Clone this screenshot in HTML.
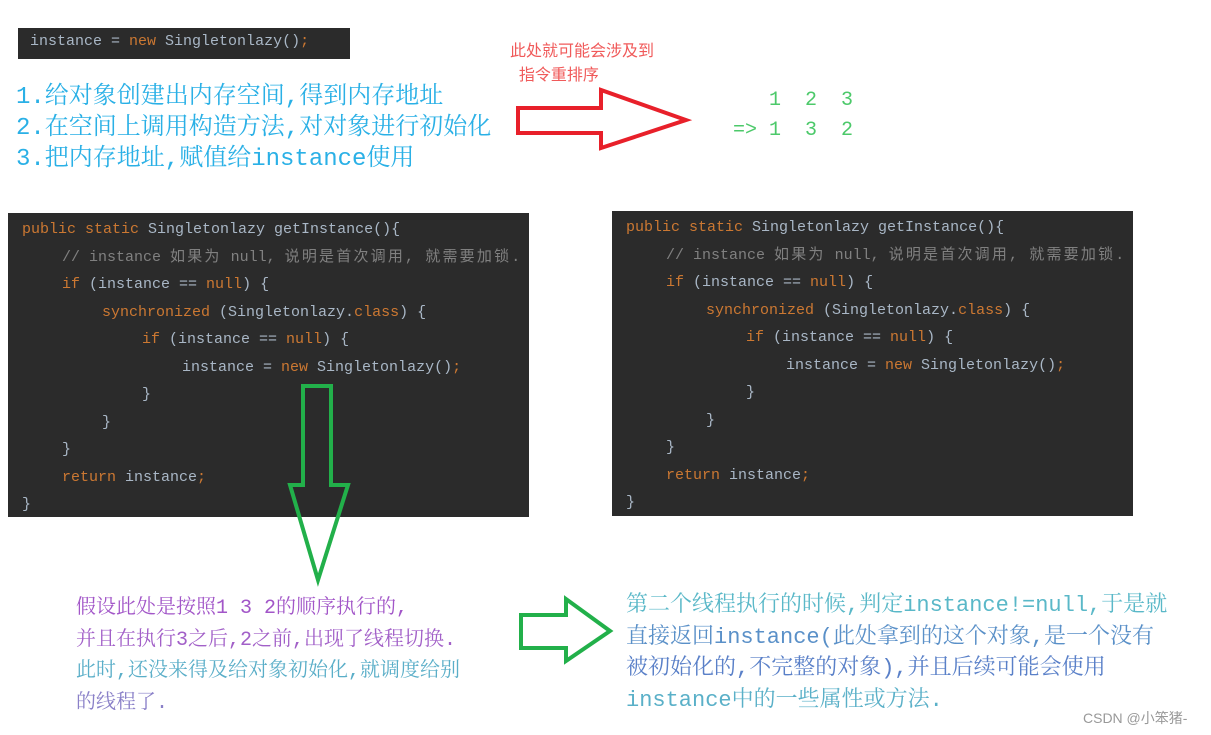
<!DOCTYPE html>
<html><head><meta charset="utf-8"><style>
body{margin:0;width:1211px;height:735px;background:#fff;position:relative;overflow:hidden;font-family:"Liberation Mono","Noto Serif CJK SC",serif}
.a{position:absolute;white-space:pre}
.code{position:absolute;background:#2b2b2b;font-family:"Liberation Mono","Noto Sans CJK SC",monospace;font-size:15px;color:#a9b7c6}
.code div{position:absolute;white-space:pre;line-height:20px}
.k{color:#cc7832}.c{color:#808080}.z{letter-spacing:2.2px}
</style></head><body>
<div class="code" style="left:18px;top:28px;width:332px;height:31px"><div style="top:4px;left:12px">instance = <span class="k">new</span> Singletonlazy()<span class="k">;</span></div></div>
<div class="a" style="left:16px;top:82px;font-size:24px;color:#2ab0e6;line-height:31px">1.给对象创建出内存空间,得到内存地址
2.在空间上调用构造方法,对对象进行初始化
3.把内存地址,赋值给instance使用</div>
<div class="a" style="left:510px;top:40px;font-size:16px;color:#f05a5a;line-height:24px;font-family:'Liberation Sans','Noto Sans CJK SC',sans-serif">此处就可能会涉及到
  指令重排序</div>
<div class="a" style="left:733px;top:86px;font-size:20px;color:#4cc96a;line-height:30px">   1  2  3
=> 1  3  2</div>
<svg class="a" style="left:0;top:0" width="1211" height="735">
<polygon points="518,108 601,108 601,90 686,120 601,148 601,133 518,133" fill="none" stroke="#e8202a" stroke-width="4"/>
</svg>
<div class="code" style="left:8px;top:213px;width:521px;height:304px">
<div style="top:7px;left:14px"><span class="k">public static</span> Singletonlazy getInstance(){</div>
<div style="top:35px;left:54px" class="c">// instance <span class="z">如果为</span> null, <span class="z">说明是首次调用,</span> <span class="z">就需要加锁.</span></div>
<div style="top:62px;left:54px"><span class="k">if</span> (instance == <span class="k">null</span>) {</div>
<div style="top:90px;left:94px"><span class="k">synchronized</span> (Singletonlazy.<span class="k">class</span>) {</div>
<div style="top:117px;left:134px"><span class="k">if</span> (instance == <span class="k">null</span>) {</div>
<div style="top:145px;left:174px">instance = <span class="k">new</span> Singletonlazy()<span class="k">;</span></div>
<div style="top:172px;left:134px">}</div>
<div style="top:200px;left:94px">}</div>
<div style="top:227px;left:54px">}</div>
<div style="top:255px;left:54px"><span class="k">return</span> instance<span class="k">;</span></div>
<div style="top:282px;left:14px">}</div>
</div>
<div class="code" style="left:612px;top:211px;width:521px;height:305px">
<div style="top:7px;left:14px"><span class="k">public static</span> Singletonlazy getInstance(){</div>
<div style="top:35px;left:54px" class="c">// instance <span class="z">如果为</span> null, <span class="z">说明是首次调用,</span> <span class="z">就需要加锁.</span></div>
<div style="top:62px;left:54px"><span class="k">if</span> (instance == <span class="k">null</span>) {</div>
<div style="top:90px;left:94px"><span class="k">synchronized</span> (Singletonlazy.<span class="k">class</span>) {</div>
<div style="top:117px;left:134px"><span class="k">if</span> (instance == <span class="k">null</span>) {</div>
<div style="top:145px;left:174px">instance = <span class="k">new</span> Singletonlazy()<span class="k">;</span></div>
<div style="top:172px;left:134px">}</div>
<div style="top:200px;left:94px">}</div>
<div style="top:227px;left:54px">}</div>
<div style="top:255px;left:54px"><span class="k">return</span> instance<span class="k">;</span></div>
<div style="top:282px;left:14px">}</div>
</div>
<svg class="a" style="left:0;top:0" width="1211" height="735">
<polygon points="303,386 331,386 331,485 348,485 318,580 290,485 303,485" fill="none" stroke="#22b04a" stroke-width="4"/>
<polygon points="521,615 566,615 566,599 610,631 566,661 566,648 521,648" fill="none" stroke="#22b04a" stroke-width="4"/>
</svg>
<div class="a" style="left:76px;top:593px;font-size:20px;line-height:31.5px"><span style="color:#a256c8">假设此处是按照1 3 2的顺序执行的,</span>
<span style="color:#a260c8">并且在执行3之后,2之前,出现了线程切换.</span>
<span style="color:#5aaec8">此时,还没来得及给对象初始化,就调度给别</span>
<span style="color:#8a80c8">的线程了.</span></div>
<div class="a" style="left:626px;top:590px;font-size:22px;line-height:31.5px"><span style="color:#5ab8c8">第二个线程执行的时候,判定instance!=null,于是就</span>
<span style="color:#5a90c8">直接返回instance(此处拿到的这个对象,是一个没有</span>
<span style="color:#5a80c8">被初始化的,不完整的对象),并且后续可能会使用</span>
<span style="color:#5ab0c8">instance中的一些属性或方法.</span></div>
<div class="a" style="left:1083px;top:708px;font-size:14px;color:#999;font-family:'Liberation Sans','Noto Sans CJK SC',sans-serif">CSDN @小笨猪-</div>
</body></html>
